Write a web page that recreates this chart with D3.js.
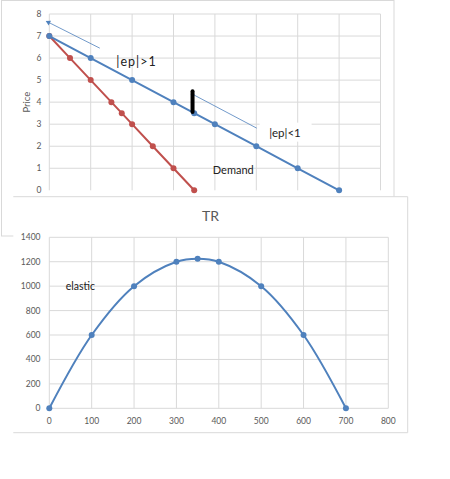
<!DOCTYPE html>
<html lang="en">
<head>
    <meta charset="UTF-8">
    <title>Demand and TR</title>
    <script src="https://d3js.org/d3.v7.min.js"></script>
    <style>
        body, html {
            margin: 0;
            padding: 0;
            background: #fff;
            font-family: 'Lato', 'Open Sans', sans-serif;
        }
        svg { display: block; }
        .tick-label { fill: #595959; font-size: 8.5px; }
    </style>
</head>
<body>
<svg width="450" height="479"></svg>
<script>
    // quantity and prices
    const quantity = [0, 100, 200, 300, 350, 400, 500, 600, 700];
    const priceDemand = [7, 6, 5, 4, 3.5, 3, 2, 1, 0];
    const quantitySteep = [0, 50, 100, 150, 175, 200, 250, 300, 350];
    const priceSteep = [7, 6, 5, 4, 3.5, 3, 2, 1, 0];
    // total revenue (P x Q)
    const totalRevenue = [0, 600, 1000, 1200, 1225, 1200, 1000, 600, 0];

    const priceTicks = [0, 1, 2, 3, 4, 5, 6, 7, 8];
    const qTicks = [0, 100, 200, 300, 400, 500, 600, 700, 800];
    const trTicks = [0, 200, 400, 600, 800, 1000, 1200, 1400];

    const blue = '#4f81bd', red = '#c0504d', grid = '#d9d9d9';
    const svg = d3.select('svg');

    // ---- top chart: demand ----
    svg.append('rect')
        .attr('x', 1.5).attr('y', 0.5).attr('width', 392.5).attr('height', 235.5)
        .attr('fill', '#fff').attr('stroke', grid);

    const x1 = d3.scaleLinear().domain([0, 800]).range([49.3, 380.5]);
    const y1 = d3.scaleLinear().domain([0, 8]).range([190.3, 14]);

    const demandG = svg.append('g');
    demandG.selectAll('.hg').data(priceTicks.slice(1)).join('line')
        .attr('x1', x1(0)).attr('x2', x1(800))
        .attr('y1', d => y1(d)).attr('y2', d => y1(d))
        .attr('stroke', grid);
    demandG.selectAll('.vg').data(qTicks).join('line')
        .attr('x1', d => x1(d)).attr('x2', d => x1(d))
        .attr('y1', y1(0)).attr('y2', y1(8))
        .attr('stroke', grid);
    demandG.selectAll('.yl').data(priceTicks).join('text')
        .attr('class', 'tick-label')
        .attr('x', 41.5).attr('y', d => y1(d) + 3)
        .attr('text-anchor', 'end')
        .text(d => d);
    demandG.append('text')
        .attr('class', 'tick-label')
        .attr('transform', `translate(29.5,${y1(4)}) rotate(-90)`)
        .attr('text-anchor', 'middle')
        .style('font-size', '9.5px')
        .text('Price');

    const demandPts = quantity.map((q, i) => [q, priceDemand[i]]);
    const steepPts = quantitySteep.map((q, i) => [q, priceSteep[i]]);
    const line1 = d3.line().x(d => x1(d[0])).y(d => y1(d[1]));

    demandG.append('path').attr('d', line1(steepPts))
        .attr('fill', 'none').attr('stroke', red).attr('stroke-width', 2);
    demandG.selectAll('.rd').data(steepPts).join('circle')
        .attr('cx', d => x1(d[0])).attr('cy', d => y1(d[1])).attr('r', 3)
        .attr('fill', red);

    demandG.append('path').attr('d', line1(demandPts))
        .attr('fill', 'none').attr('stroke', blue).attr('stroke-width', 2);
    demandG.selectAll('.bd').data(demandPts).join('circle')
        .attr('cx', d => x1(d[0])).attr('cy', d => y1(d[1])).attr('r', 3)
        .attr('fill', blue);

    // tangent lines
    const tangentA = [[-6, 7.66], [122, 6.45]];
    const tangentB = [[346, 4.36], [501, 2.82]];
    demandG.append('path').attr('d', line1(tangentA))
        .attr('stroke', blue).attr('stroke-opacity', 0.8).attr('stroke-width', 1);
    const ang = Math.atan2(y1(tangentA[0][1]) - y1(tangentA[1][1]),
                           x1(tangentA[0][0]) - x1(tangentA[1][0])) * 180 / Math.PI;
    demandG.append('path')
        .attr('d', d3.symbol(d3.symbolTriangle, 12)())
        .attr('transform', `translate(${x1(-2)},${y1(7.62)}) rotate(${ang + 90})`)
        .attr('fill', blue);
    demandG.append('path').attr('d', line1(tangentB))
        .attr('stroke', blue).attr('stroke-opacity', 0.8).attr('stroke-width', 1);
    demandG.append('circle')
        .attr('cx', x1(346)).attr('cy', y1(4.36)).attr('r', 1.6).attr('fill', blue);

    // black marker
    demandG.append('line')
        .attr('x1', x1(346)).attr('x2', x1(346))
        .attr('y1', y1(4.5)).attr('y2', y1(3.55))
        .attr('stroke', '#000').attr('stroke-width', 4).attr('stroke-linecap', 'round');

    demandG.append('text')
        .attr('x', x1(162)).attr('y', y1(5.65))
        .attr('fill', '#222').style('font-size', '12.5px').style('letter-spacing', '1px')
        .text('|ep|>1');
    demandG.append('rect')
        .attr('x', x1(508)).attr('y', y1(3.07)).attr('width', 52).attr('height', 19)
        .attr('fill', '#fff');
    demandG.append('text')
        .attr('x', x1(531)).attr('y', y1(2.43))
        .attr('fill', '#222').style('font-size', '11.5px')
        .text('|ep|<1');
    demandG.append('text')
        .attr('x', x1(395)).attr('y', y1(0.74))
        .attr('fill', '#222').style('font-size', '11px')
        .text('Demand');

    // ---- bottom chart: TR ----
    svg.append('rect')
        .attr('x', 13.3).attr('y', 196.7).attr('width', 394.4).attr('height', 236)
        .attr('fill', '#fff');
    svg.append('path')
        .attr('d', 'M13.3,196.7H407.7V432.7H13.3')
        .attr('fill', 'none').attr('stroke', grid);

    const x2 = d3.scaleLinear().domain([0, 800]).range([49.3, 388.3]);
    const y2 = d3.scaleLinear().domain([0, 1400]).range([408.3, 237.3]);

    const trG = svg.append('g');
    trG.append('text')
        .attr('x', 210.5).attr('y', 221)
        .attr('text-anchor', 'middle')
        .attr('fill', '#595959').style('font-size', '14px')
        .text('TR');
    trG.selectAll('.hg').data(trTicks).join('line')
        .attr('x1', x2(0)).attr('x2', x2(800))
        .attr('y1', d => y2(d)).attr('y2', d => y2(d))
        .attr('stroke', grid);
    trG.selectAll('.vg').data(qTicks).join('line')
        .attr('x1', d => x2(d)).attr('x2', d => x2(d))
        .attr('y1', y2(0)).attr('y2', y2(1400))
        .attr('stroke', grid);
    trG.selectAll('.yl').data(trTicks).join('text')
        .attr('class', 'tick-label')
        .attr('x', 40.5).attr('y', d => y2(d) + 3)
        .attr('text-anchor', 'end')
        .text(d => d);
    trG.selectAll('.xl').data(qTicks).join('text')
        .attr('class', 'tick-label')
        .attr('x', d => x2(d)).attr('y', 423.5)
        .attr('text-anchor', 'middle')
        .text(d => d);

    const trPts = quantity.map((q, i) => [q, totalRevenue[i]]);
    trG.append('path')
        .attr('d', d3.line().x(d => x2(d[0])).y(d => y2(d[1])).curve(d3.curveCatmullRom)(trPts))
        .attr('fill', 'none').attr('stroke', blue).attr('stroke-width', 2);
    trG.selectAll('.td').data(trPts).join('circle')
        .attr('cx', d => x2(d[0])).attr('cy', d => y2(d[1])).attr('r', 3)
        .attr('fill', blue);

    trG.append('text')
        .attr('x', x2(39)).attr('y', y2(970))
        .attr('fill', '#222').style('font-size', '10.5px')
        .text('elastic');
</script>
</body>
</html>
